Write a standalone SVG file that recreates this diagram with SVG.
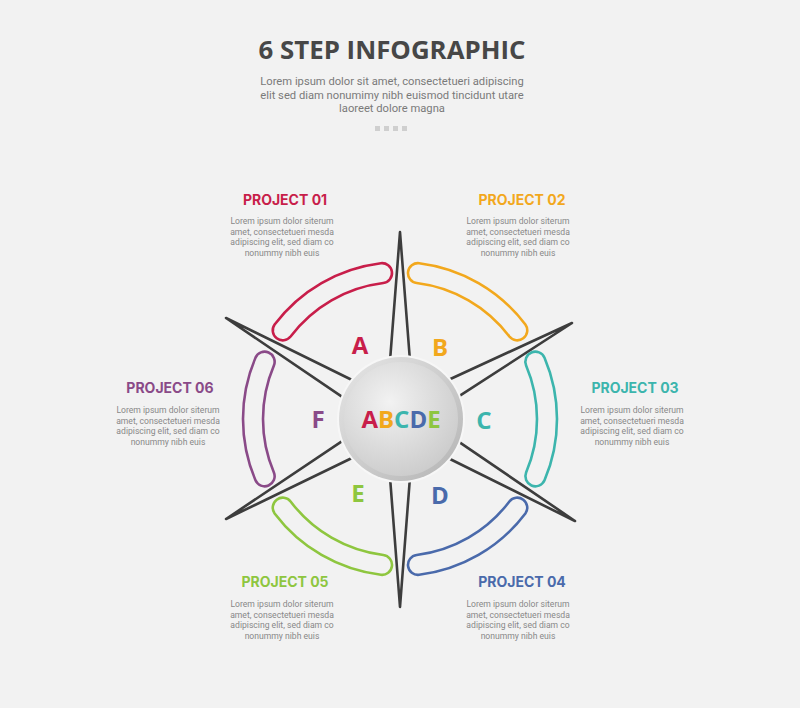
<svg xmlns="http://www.w3.org/2000/svg" width="800" height="708" viewBox="0 0 800 708">
<defs>
<style>
.title{font-family:"Open Sans","Liberation Sans",sans-serif;font-weight:700;font-size:25px;fill:#474747;text-anchor:middle}
.sub{font-family:Roboto,"Liberation Sans",sans-serif;font-size:11.2px;fill:#7a7a7a;text-anchor:middle}
.ph{font-family:Inter,"Open Sans","Liberation Sans",sans-serif;font-weight:700;font-size:14px;text-anchor:middle}
.body{font-family:Roboto,"Liberation Sans",sans-serif;font-size:8.6px;fill:#888888;text-anchor:middle}
.let{font-family:"Open Sans","Liberation Sans",sans-serif;font-weight:700;font-size:24px;text-anchor:middle}
.arc{fill:none;stroke-width:2.6;stroke-linejoin:round}
.spike{fill:none;stroke:#3d3d3d;stroke-width:2.6;stroke-linejoin:round;stroke-linecap:round}
.dot{fill:#cfcfcf}
</style>
<linearGradient id="rim" x1="0" y1="0" x2="1" y2="1">
<stop offset="0" stop-color="#e6e6e6"/>
<stop offset="1" stop-color="#b4b4b4"/>
</linearGradient>
<radialGradient id="ball" cx="0.4" cy="0.35" r="0.7">
<stop offset="0" stop-color="#f2f2f2"/>
<stop offset="1" stop-color="#cbcbcb"/>
</radialGradient>
</defs>
<rect width="800" height="708" fill="#f2f2f2"/>

<g id="header">
<text class="title" x="392" y="59" textLength="267" lengthAdjust="spacingAndGlyphs">6 STEP INFOGRAPHIC</text>
<text class="sub" x="392" y="85">Lorem ipsum dolor sit amet, consectetueri adipiscing</text>
<text class="sub" x="392" y="98.5">elit sed diam nonumimy nibh euismod tincidunt utare</text>
<text class="sub" x="392" y="112">laoreet dolore magna</text>
<rect class="dot" x="375" y="126" width="5" height="5"/>
<rect class="dot" x="384" y="126" width="5" height="5"/>
<rect class="dot" x="393" y="126" width="5" height="5"/>
<rect class="dot" x="402" y="126" width="5" height="5"/>
</g>

<g id="connectors">
<path class="spike" d="M389.93,361.88 L400,232 L410.07,361.88"/>
<path class="spike" d="M444.43,381.72 L572,323 L454.50,399.16"/>
<path class="spike" d="M454.50,438.84 L575,521 L444.43,456.28"/>
<path class="spike" d="M410.07,476.12 L400,607 L389.93,476.12"/>
<path class="spike" d="M355.57,456.28 L226,519 L345.50,438.84"/>
<path class="spike" d="M345.50,399.16 L226,318 L355.57,381.72"/>
</g>

<g id="center">
<circle cx="401" cy="419" r="64" fill="#f7f7f7"/>
<circle cx="401" cy="419" r="62" fill="url(#rim)"/>
<circle cx="401" cy="419" r="57" fill="url(#ball)"/>
<text class="let" x="401" y="427.5"><tspan fill="#c81e4a">A</tspan><tspan fill="#f2a81d">B</tspan><tspan fill="#3cb5ad">C</tspan><tspan fill="#4a6aab">D</tspan><tspan fill="#8ec63f">E</tspan></text>
</g>

<g id="step-a">
<path class="arc" stroke="#c81e4a" d="M274.62,324.52 A157,157 0 0 1 380.86,263.18 A10,10 0 0 1 383.30,283.03 A137,137 0 0 0 290.59,336.55 A10,10 0 0 1 274.62,324.52 Z"/>
<text class="let" fill="#c81e4a" x="360" y="353.5">A</text>
<text class="ph" fill="#c81e4a" x="285" y="205">PROJECT 01</text>
<text class="body" x="282" y="224">Lorem ipsum dolor siterum</text>
<text class="body" x="282" y="234.5">amet, consectetueri mesda</text>
<text class="body" x="282" y="245">adipiscing elit, sed diam co</text>
<text class="body" x="282" y="255.5">nonummy nibh euis</text>
</g>

<g id="step-b">
<path class="arc" stroke="#f2a81d" d="M419.14,263.18 A157,157 0 0 1 525.38,324.52 A10,10 0 0 1 509.41,336.55 A137,137 0 0 0 416.70,283.03 A10,10 0 0 1 419.14,263.18 Z"/>
<text class="let" fill="#f2a81d" x="440" y="355.5">B</text>
<text class="ph" fill="#f2a81d" x="522" y="205">PROJECT 02</text>
<text class="body" x="518" y="224">Lorem ipsum dolor siterum</text>
<text class="body" x="518" y="234.5">amet, consectetueri mesda</text>
<text class="body" x="518" y="245">adipiscing elit, sed diam co</text>
<text class="body" x="518" y="255.5">nonummy nibh euis</text>
</g>

<g id="step-c">
<path class="arc" stroke="#3cb5ad" d="M544.52,357.66 A157,157 0 0 1 544.52,480.34 A10,10 0 0 1 526.11,472.53 A137,137 0 0 0 526.11,365.47 A10,10 0 0 1 544.52,357.66 Z"/>
<text class="let" fill="#3cb5ad" x="484" y="428.5">C</text>
<text class="ph" fill="#3cb5ad" x="635" y="393">PROJECT 03</text>
<text class="body" x="632" y="413">Lorem ipsum dolor siterum</text>
<text class="body" x="632" y="423.5">amet, consectetueri mesda</text>
<text class="body" x="632" y="434">adipiscing elit, sed diam co</text>
<text class="body" x="632" y="444.5">nonummy nibh euis</text>
</g>

<g id="step-d">
<path class="arc" stroke="#4a6aab" d="M525.38,513.48 A157,157 0 0 1 419.14,574.82 A10,10 0 0 1 416.70,554.97 A137,137 0 0 0 509.41,501.45 A10,10 0 0 1 525.38,513.48 Z"/>
<text class="let" fill="#4a6aab" x="440" y="503.5">D</text>
<text class="ph" fill="#4a6aab" x="522" y="587">PROJECT 04</text>
<text class="body" x="518" y="607">Lorem ipsum dolor siterum</text>
<text class="body" x="518" y="617.5">amet, consectetueri mesda</text>
<text class="body" x="518" y="628">adipiscing elit, sed diam co</text>
<text class="body" x="518" y="638.5">nonummy nibh euis</text>
</g>

<g id="step-e">
<path class="arc" stroke="#8ec63f" d="M380.86,574.82 A157,157 0 0 1 274.62,513.48 A10,10 0 0 1 290.59,501.45 A137,137 0 0 0 383.30,554.97 A10,10 0 0 1 380.86,574.82 Z"/>
<text class="let" fill="#8ec63f" x="358" y="501.5">E</text>
<text class="ph" fill="#8ec63f" x="285" y="587">PROJECT 05</text>
<text class="body" x="282" y="607">Lorem ipsum dolor siterum</text>
<text class="body" x="282" y="617.5">amet, consectetueri mesda</text>
<text class="body" x="282" y="628">adipiscing elit, sed diam co</text>
<text class="body" x="282" y="638.5">nonummy nibh euis</text>
</g>

<g id="step-f">
<path class="arc" stroke="#8a4a88" d="M255.48,480.34 A157,157 0 0 1 255.48,357.66 A10,10 0 0 1 273.89,365.47 A137,137 0 0 0 273.89,472.53 A10,10 0 0 1 255.48,480.34 Z"/>
<text class="let" fill="#8a4a88" x="318" y="427.5">F</text>
<text class="ph" fill="#8a4a88" x="170" y="393">PROJECT 06</text>
<text class="body" x="168" y="413">Lorem ipsum dolor siterum</text>
<text class="body" x="168" y="423.5">amet, consectetueri mesda</text>
<text class="body" x="168" y="434">adipiscing elit, sed diam co</text>
<text class="body" x="168" y="444.5">nonummy nibh euis</text>
</g>
</svg>
